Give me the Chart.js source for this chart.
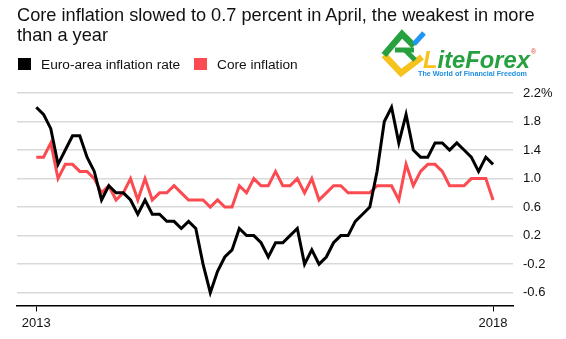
<!DOCTYPE html>
<html lang="en">
<head>
    <meta charset="UTF-8">
    <title>Euro-area core inflation</title>
    <script src="https://cdn.jsdelivr.net/npm/chart.js"></script>
    <style>
        body {
            margin: 0;
            background: #fff;
            font-family: 'Liberation Sans', Arial, sans-serif;
            color: #111;
        }
        #wrap { position: relative; width: 566px; height: 339px; overflow: hidden; }
        #chart { position: absolute; left: 0; top: 0; }
        .title { position: absolute; left: 17px; top: 5px; font-size: 18.2px; line-height: 20px; white-space: nowrap; }
        .legend { position: absolute; top: 58px; font-size: 13.7px; line-height: 14px; white-space: nowrap; }
        .legend span.box { display: inline-block; width: 13px; height: 12px; vertical-align: -1px; margin-right: 10px; }
        #logo { position: absolute; left: 370px; top: 20px; }
    </style>
</head>
<body>
<div id="wrap">
    <canvas id="chart" width="566" height="339"></canvas>

    <div class="title">Core inflation slowed to 0.7 percent in April, the weakest in more<br>than a year</div>

    <div class="legend" style="left:18px"><span class="box" style="background:#000"></span>Euro-area inflation rate</div>
    <div class="legend" style="left:194px"><span class="box" style="background:#fb4a50"></span>Core inflation</div>

    <!-- logo -->
    <svg id="logo" width="180" height="65" viewBox="0 0 180 65">
        <polyline points="14,35 31,53 52,37" fill="none" stroke="#f6c21c" stroke-width="6.5"/>
        <polyline points="14,35 32,14 44,26" fill="none" stroke="#27a03f" stroke-width="6.5"/>
        <polyline points="25,30 44,30" fill="none" stroke="#27a03f" stroke-width="5"/>
        <polyline points="35,30 45,40" fill="none" stroke="#27a03f" stroke-width="5"/>
        <polyline points="44,24 54,13" fill="none" stroke="#2196f3" stroke-width="5"/>
        <text x="53" y="48" font-family="Liberation Sans, Arial" font-weight="bold" font-style="italic" font-size="23" textLength="107" lengthAdjust="spacingAndGlyphs"><tspan fill="#f6c21c">L</tspan><tspan fill="#27a03f">iteForex</tspan></text>
        <text x="161" y="34" font-family="Liberation Sans, Arial" font-size="7" fill="#e53935">®</text>
        <text x="48" y="56" font-family="Liberation Sans, Arial" font-weight="bold" font-size="7" fill="#1e8fe0" textLength="109" lengthAdjust="spacingAndGlyphs">The World of Financial Freedom</text>
    </svg>
</div>

<script>
    // monthly data, Jan 2013 - Apr 2018
    const euroArea = [
        2.0, 1.9, 1.7, 1.2, 1.4, 1.6, 1.6, 1.3, 1.1, 0.7, 0.9, 0.8,
        0.8, 0.7, 0.5, 0.7, 0.5, 0.5, 0.4, 0.4, 0.3, 0.4, 0.3, -0.2,
        -0.6, -0.3, -0.1, 0.0, 0.3, 0.2, 0.2, 0.1, -0.1, 0.1, 0.1, 0.2,
        0.3, -0.2, 0.0, -0.2, -0.1, 0.1, 0.2, 0.2, 0.4, 0.5, 0.6, 1.1,
        1.8, 2.0, 1.5, 1.9, 1.4, 1.3, 1.3, 1.5, 1.5, 1.4, 1.5, 1.4,
        1.3, 1.1, 1.3, 1.2
    ];
    const coreInflation = [
        1.3, 1.3, 1.5, 1.0, 1.2, 1.2, 1.1, 1.1, 1.0, 0.8, 0.9, 0.7,
        0.8, 1.0, 0.7, 1.0, 0.7, 0.8, 0.8, 0.9, 0.8, 0.7, 0.7, 0.7,
        0.6, 0.7, 0.6, 0.6, 0.9, 0.8, 1.0, 0.9, 0.9, 1.1, 0.9, 0.9,
        1.0, 0.8, 1.0, 0.7, 0.8, 0.9, 0.9, 0.8, 0.8, 0.8, 0.8, 0.9,
        0.9, 0.9, 0.7, 1.2, 0.9, 1.1, 1.2, 1.2, 1.1, 0.9, 0.9, 0.9,
        1.0, 1.0, 1.0, 0.7
    ];

    const xTickIndex = [0, 63];
    const xTickLabels = ['2013', '2018'];
    const yGridValues = [-0.6, -0.4, -0.2, 0, 0.2, 0.4, 0.6, 0.8, 1.0, 1.2, 1.4, 1.6, 1.8, 2.0, 2.2];
    const yLabelValues = [-0.6, -0.2, 0.2, 0.6, 1.0, 1.4, 1.8, 2.2];

    const toPoints = arr => arr.map((v, i) => ({ x: i, y: v }));
    const font = { family: "'Liberation Sans', Arial, sans-serif", size: 13 };

    new Chart(document.getElementById('chart'), {
        type: 'line',
        data: {
            datasets: [
                { label: 'Euro-area inflation rate', data: toPoints(euroArea), borderColor: '#000', borderWidth: 3, pointRadius: 0 },
                { label: 'Core inflation', data: toPoints(coreInflation), borderColor: '#fb4a50', borderWidth: 3, pointRadius: 0 }
            ]
        },
        options: {
            responsive: false,
            animation: false,
            clip: false,
            layout: { padding: { left: 17, top: 93, right: 0, bottom: 0 } },
            plugins: { legend: { display: false }, tooltip: { enabled: false } },
            scales: {
                x: {
                    type: 'linear',
                    min: -2.66,
                    max: 65.75,
                    afterBuildTicks: s => { s.ticks = xTickIndex.map(v => ({ value: v })); },
                    afterFit: s => { s.height = 33.5; },
                    ticks: {
                        autoSkip: false, maxRotation: 0, padding: 4, color: '#111', font: font,
                        callback: v => xTickLabels[xTickIndex.indexOf(v)]
                    },
                    grid: { drawOnChartArea: false, drawTicks: true, tickLength: 6, color: '#000', lineWidth: 1 },
                    border: { display: true, color: '#000', width: 1.5 }
                },
                y: {
                    position: 'right',
                    min: -0.78,
                    max: 2.2,
                    afterBuildTicks: s => { s.ticks = yGridValues.map(v => ({ value: v })); },
                    afterFit: s => { s.width = 53; },
                    ticks: {
                        padding: 10, color: '#111', font: font,
                        callback: v => {
                            if (!yLabelValues.includes(v)) return '';
                            const t = v.toFixed(1);
                            return v === 2.2 ? t + '%' : t;
                        }
                    },
                    grid: {
                        drawTicks: false,
                        color: ctx => ctx.tick.value === 0 ? '#333' : '#d9d9d9',
                        lineWidth: ctx => ctx.tick.value === 0 ? 1.2 : 1.5
                    },
                    border: { display: false }
                }
            }
        }
    });
</script>
</body>
</html>
